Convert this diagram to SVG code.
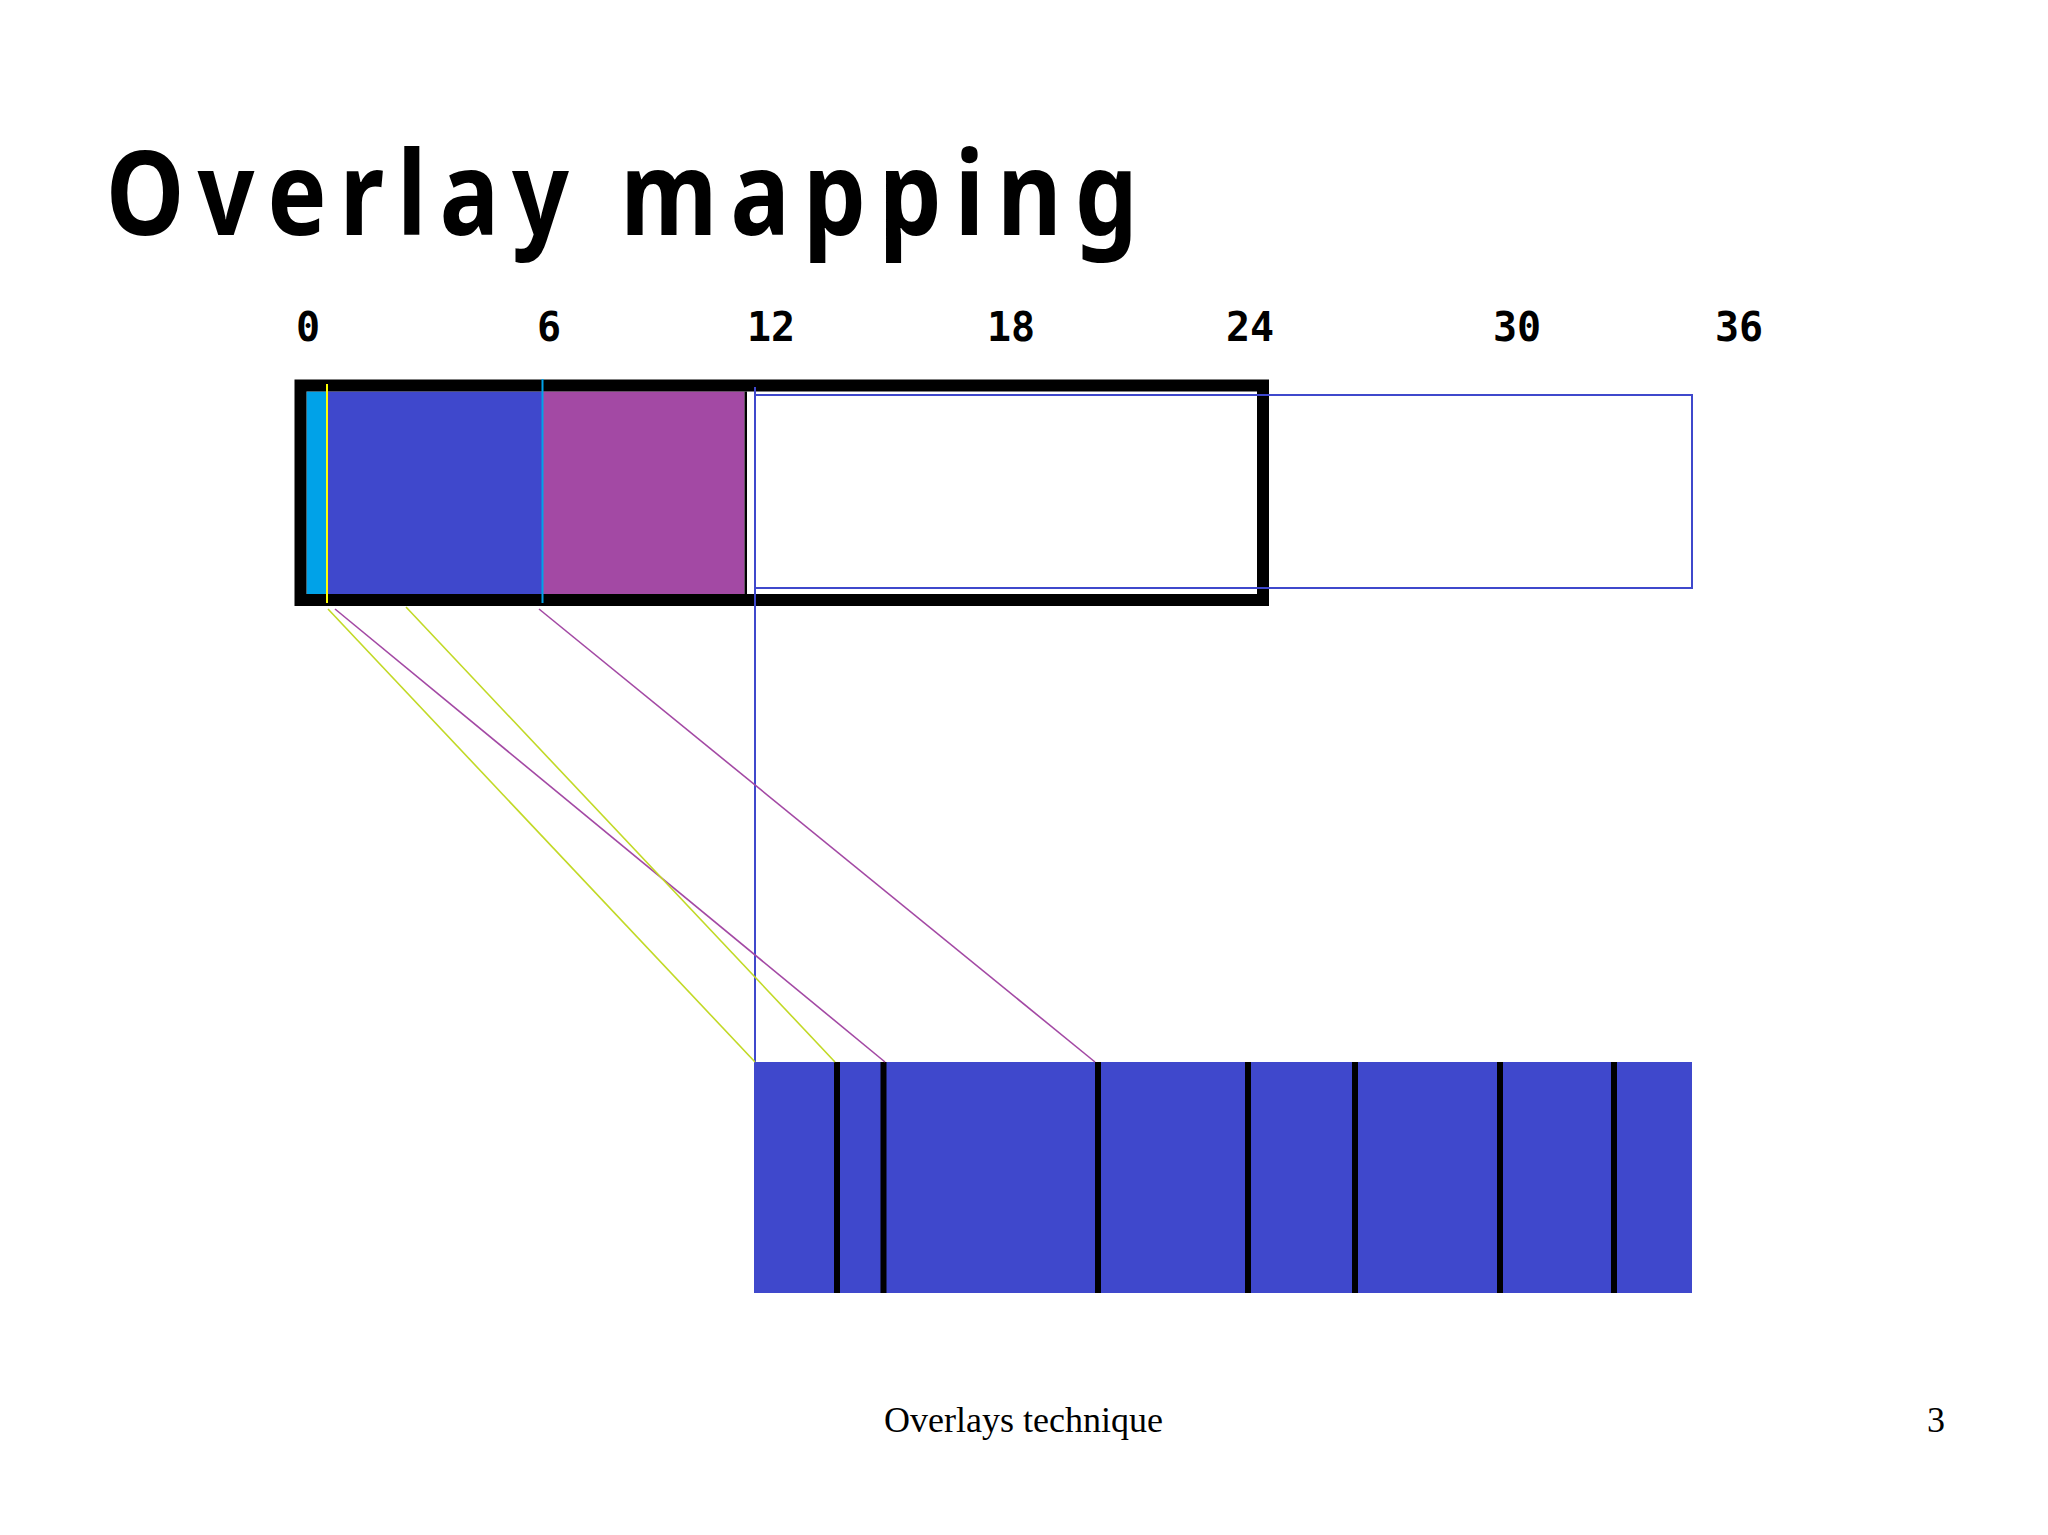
<svg xmlns="http://www.w3.org/2000/svg" width="2048" height="1535" viewBox="0 0 2048 1535">
  <style>
    .title { font-family: "Noto Sans", "Open Sans", "DejaVu Sans", sans-serif; font-weight: bold; font-size: 116px; fill: #000; }
    .tick { font-family: "DejaVu Sans Mono", "Liberation Mono", monospace; font-weight: bold; font-size: 40px; fill: #000; }
    .foot { font-family: "Liberation Serif", "Times New Roman", serif; font-size: 36px; fill: #000; }
    .sep { fill: #000; }
    .lime { stroke: #c2d926; stroke-width: 1.6; fill: none; }
    .violet { stroke: #a349a4; stroke-width: 1.6; fill: none; }
  </style>
  <rect x="0" y="0" width="2048" height="1535" fill="#ffffff"/>

  <g id="title">
    <text class="title" transform="scale(0.86,1)" x="123" y="235" textLength="1200" lengthAdjust="spacing">Overlay mapping</text>
  </g>

  <g id="axis-labels">
    <text class="tick" x="296" y="341">0</text>
    <text class="tick" x="537" y="341">6</text>
    <text class="tick" x="747" y="341">12</text>
    <text class="tick" x="987" y="341">18</text>
    <text class="tick" x="1226" y="341">24</text>
    <text class="tick" x="1493" y="341">30</text>
    <text class="tick" x="1715" y="341">36</text>
  </g>

  <g id="memory">
    <rect x="306.5" y="391.5" width="950.5" height="202.5" fill="#ffffff"/>
    <rect x="306.5" y="391.5" width="20.5" height="202.5" fill="#00a2e8"/>
    <rect x="327" y="391.5" width="215.5" height="202.5" fill="#3f48cc"/>
    <rect x="542.5" y="391.5" width="202" height="202.5" fill="#a349a4"/>
    <rect x="744.5" y="391.5" width="2.5" height="202.5" fill="#000"/>
    <rect x="300.5" y="385.5" width="962.5" height="214.5" fill="none" stroke="#000" stroke-width="12"/>
    <line x1="327" y1="384" x2="327" y2="603" stroke="#ffff00" stroke-width="2"/>
    <line x1="542.5" y1="379" x2="542.5" y2="603" stroke="#00a2e8" stroke-width="2"/>
  </g>

  <g id="overlay-region">
    <rect x="755" y="395" width="937" height="193" fill="none" stroke="#3f48cc" stroke-width="2"/>
  </g>

  <g id="overlay-bar">
    <rect x="754" y="1062" width="938" height="231" fill="#3f48cc"/>
    <rect class="sep" x="834" y="1062" width="6" height="231"/>
    <rect class="sep" x="880.5" y="1062" width="6" height="231"/>
    <rect class="sep" x="1095" y="1062" width="6" height="231"/>
    <rect class="sep" x="1245" y="1062" width="6" height="231"/>
    <rect class="sep" x="1352" y="1062" width="6" height="231"/>
    <rect class="sep" x="1497" y="1062" width="6" height="231"/>
    <rect class="sep" x="1611" y="1062" width="6" height="231"/>
  </g>

  <g id="connectors">
    <line x1="755" y1="387" x2="755" y2="1062" stroke="#3f48cc" stroke-width="2"/>
    <line class="lime" x1="328" y1="609" x2="755" y2="1062"/>
    <line class="violet" x1="335" y1="609" x2="885" y2="1062"/>
    <line class="lime" x1="406" y1="607" x2="835" y2="1062"/>
    <line class="violet" x1="539" y1="609" x2="1095" y2="1062"/>
  </g>

  <g id="footer">
    <text class="foot" x="884" y="1432">Overlays technique</text>
    <text class="foot" x="1927" y="1432">3</text>
  </g>
</svg>
